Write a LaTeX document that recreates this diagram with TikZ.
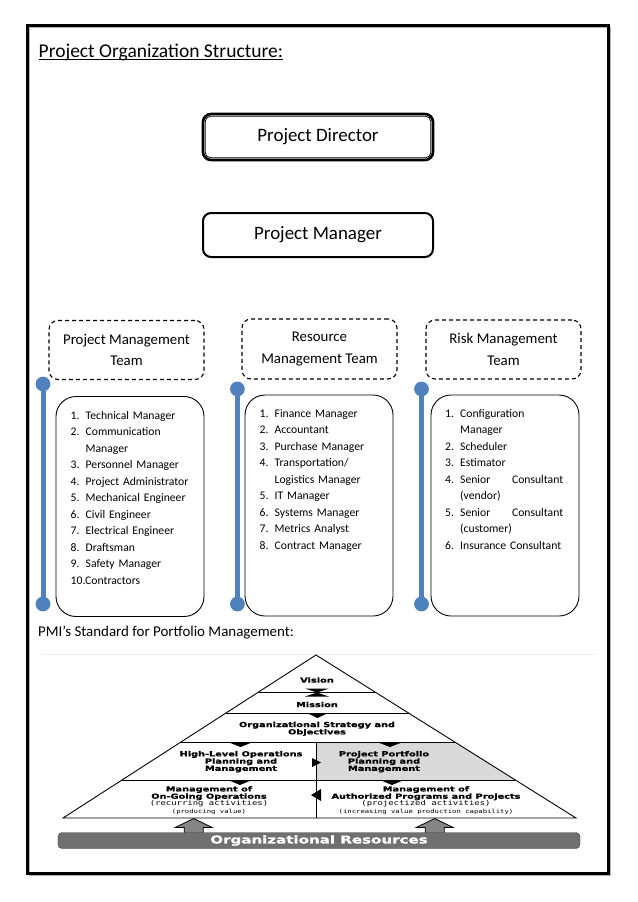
\documentclass[tikz,border=0pt]{standalone}
\usepackage{fontspec}
\setmainfont{Carlito}
\newfontfamily\pyrfont[FakeStretch=1.4, BoldFeatures={FakeBold=1.2}]{DejaVu Sans}
\newfontfamily\pyrmono[FakeStretch=1.3]{DejaVu Sans Mono}
\usetikzlibrary{calc}
\definecolor{barblue}{HTML}{4F81BD}
\definecolor{portgray}{HTML}{D9D9D9}
\definecolor{resgray}{HTML}{707070}
\newcommand{\itm}[2]{\makebox[15bp][l]{#1}#2}
\newcommand{\monobig}{\pyrmono\mdseries\fontsize{6.9}{7.3}\selectfont}
\newcommand{\monosmall}{\pyrmono\mdseries\fontsize{5.6}{7.3}\selectfont}

\begin{document}
\begin{tikzpicture}[x=1bp,y=-1bp,
  every node/.style={inner sep=0pt},
  topbox/.style={draw, rounded corners=8bp, minimum width=230bp, font=\fontsize{19}{23}\selectfont},
  teambox/.style={draw, dash pattern=on 4bp off 3bp, line width=1.1bp, rounded corners=9bp,
    minimum width=155bp, minimum height=59bp, align=center, font=\fontsize{14.9}{21.3}\selectfont},
  listbox/.style={draw, line width=0.9bp, rounded corners=20bp, minimum width=148bp, minimum height=220bp},
  listtext/.style={anchor=base west, align=left, text width=140bp, font=\fontsize{11.7}{16.6}\selectfont},
  pyrtext/.style={align=center, font=\pyrfont\bfseries\fontsize{7}{7.3}\selectfont},
  pyrtri/.style={fill=black},
  bluebar/.style={draw=barblue, line width=5bp},
]
\useasboundingbox (0,0) rectangle (638,902);

% page frame
\draw[gray!60, line width=1bp] (29.5,27.5) rectangle (610.5,875.5);
\draw[line width=3bp] (27.5,25.5) rectangle (608.5,873.5);

\node[anchor=base west, font=\fontsize{19.6}{23}\selectfont] (title) at (38.5,57.5) {Project Organization Structure:};
\draw[line width=1bp] ([yshift=-1.8bp]title.base west) -- ([yshift=-1.8bp]title.base east);

\node[topbox, line width=2.6bp, minimum height=46bp] (director) at (318,137) {Project Director};
\draw[line width=0.8bp, rounded corners=5bp] ([shift={(3.6,3.6)}]director.north west) rectangle ([shift={(-3.6,-3.6)}]director.south east);
\node[topbox, line width=2bp, minimum height=44bp] (manager) at (318,235) {Project Manager};

\node[teambox] (pmteam) at (126.5,350) {Project Management\\Team};
\node[teambox, minimum height=60bp] (resteam) at (319.5,349) {Resource\\Management Team};
\node[teambox] (riskteam) at (503.5,349.5) {Risk Management\\Team};

% blue bars
\coordinate (pmbartop) at (43,384);
\coordinate (pmbarbot) at (43,604);
\coordinate (resbartop) at (237.4,389);
\coordinate (resbarbot) at (237.4,604);
\coordinate (riskbartop) at (421.5,389);
\coordinate (riskbarbot) at (421.5,604);
\draw[bluebar] (pmbartop) -- (pmbarbot);
\draw[bluebar] (resbartop) -- (resbarbot);
\draw[bluebar] (riskbartop) -- (riskbarbot);
\fill[barblue] (pmbartop) circle (7.4bp) (pmbarbot) circle (7.4bp);
\fill[barblue] (resbartop) circle (7.4bp) (resbarbot) circle (7.4bp);
\fill[barblue] (riskbartop) circle (7.4bp) (riskbarbot) circle (7.4bp);

\node[listbox] (pmlist) at (130,506.5) {};
\node[listbox, minimum height=221bp] (reslist) at (319,505.5) {};
\node[listbox, minimum height=221bp] (risklist) at (505,505.5) {};

\node[listtext] (pmitems) at (70.5,419) {\itm{1.}{Technical Manager}\\
  \itm{2.}{Communication}\\ \itm{}{Manager}\\ \itm{3.}{Personnel Manager}\\
  \itm{4.}{Project Administrator}\\ \itm{5.}{Mechanical Engineer}\\
  \itm{6.}{Civil Engineer}\\ \itm{7.}{Electrical Engineer}\\
  \itm{8.}{Draftsman}\\ \itm{9.}{Safety Manager}\\ 10.Contractors};
\node[listtext] (resitems) at (259.5,417) {\itm{1.}{Finance Manager}\\
  \itm{2.}{Accountant}\\ \itm{3.}{Purchase Manager}\\ \itm{4.}{Transportation/}\\
  \itm{}{Logistics Manager}\\ \itm{5.}{IT Manager}\\ \itm{6.}{Systems Manager}\\
  \itm{7.}{Metrics Analyst}\\ \itm{8.}{Contract Manager}};
\node[listtext] (riskitems) at (445,417) {\itm{1.}{Configuration}\\
  \itm{}{Manager}\\ \itm{2.}{Scheduler}\\ \itm{3.}{Estimator}\\
  \itm{4.}{\makebox[103bp][l]{Senior\hfill Consultant}}\\ \itm{}{(vendor)}\\
  \itm{5.}{\makebox[103bp][l]{Senior\hfill Consultant}}\\ \itm{}{(customer)}\\
  \itm{6.}{Insurance Consultant}};

\node[anchor=base west, font=\fontsize{15}{18}\selectfont] (pmi) at (38,636) {PMI's Standard for Portfolio Management:};
\draw[gray!15, line width=0.8bp] (41,654.5) -- (596,654.5);

% pyramid
\coordinate (top) at (316,655);
\coordinate (bl) at (63,818);
\coordinate (br) at (576,818);
\coordinate (divtop) at (316,742);
\coordinate (divbot) at (316,818);
\fill[portgray] ($(top)!.534!(br)$) -- ($(top)!.767!(br)$) -- (316,780) -- (divtop) -- cycle;
\draw[line width=0.9bp] (top) -- (br) -- (bl) -- cycle;
\foreach \t in {.227,.356,.534,.767}
  \draw[line width=0.8bp] ($(top)!\t!(bl)$) -- ($(top)!\t!(br)$);
\draw[line width=0.9bp] (divtop) -- (divbot);

\fill[pyrtri] (305,688.5) -- (329,688.5) -- (317,692.5) -- cycle;
\fill[pyrtri] (305,696.5) -- (329,696.5) -- (317,692.5) -- cycle;
\fill[pyrtri] (307,713) -- (328,713) -- (317.5,718) -- cycle;
\fill[pyrtri] (228,742) -- (253,742) -- (240.5,747) -- cycle;
\fill[pyrtri] (377,742) -- (403,742) -- (390,747) -- cycle;
\fill[pyrtri] (228,780) -- (252,780) -- (240,785) -- cycle;
\fill[pyrtri] (380,780) -- (404,780) -- (392,785) -- cycle;
\fill[pyrtri] (312,758) -- (312,767) -- (321,762.5) -- cycle;
\fill[pyrtri] (321,789) -- (321,801) -- (311,795) -- cycle;

\node[pyrtext] (vision) at (317,680) {Vision};
\node[pyrtext] (mission) at (317,704.5) {Mission};
\node[pyrtext] (strategy) at (317,728.8) {Organizational Strategy and\\Objectives};
\node[pyrtext] (hlops) at (241,761.7) {High-Level Operations\\Planning and\\Management};
\node[pyrtext] (ppm) at (384,761.7) {Project Portfolio\\Planning and\\Management};
\node[pyrtext] (ongoing) at (209,800.3) {Management of\\On-Going Operations\\{\monobig (recurring activities)}\\{\monosmall (producing value)}};
\node[pyrtext] (authorized) at (426,800.3) {Management of\\Authorized Programs and Projects\\{\monobig (projectized activities)}\\{\monosmall (increasing value production capability)}};

% resources
\foreach \ax in {193.7,434.7}
  \draw[fill=resgray!85, line width=0.8bp] (\ax,818.5) -- ++(18.5,9) -- ++(-9,0) -- ++(0,6) -- ++(-19,0) -- ++(0,-6) -- ++(-9,0) -- cycle;
\node[draw=black!75, fill=resgray, rounded corners=4bp, minimum width=522bp, minimum height=16bp,
  text=white, font=\pyrfont\bfseries\fontsize{10.8}{12}\selectfont] (orgres) at (319,840.5) {Organizational Resources};
\end{tikzpicture}
\end{document}
